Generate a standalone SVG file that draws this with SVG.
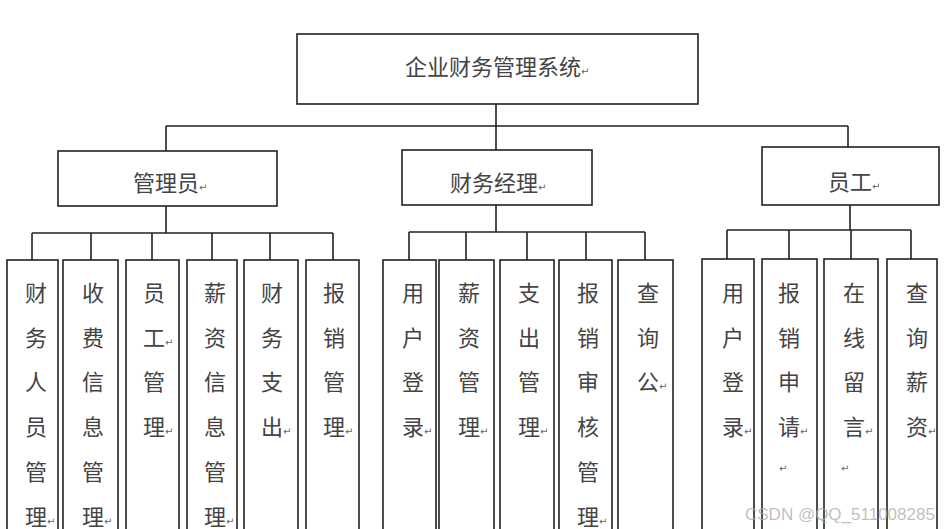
<svg xmlns="http://www.w3.org/2000/svg" width="944" height="529" viewBox="0 0 944 529">
<style>
.box{fill:#fff;stroke:#222;stroke-width:1.6}
.ln{fill:none;stroke:#222;stroke-width:1.6}
.t{font-family:"Noto Sans CJK SC","Noto Sans CJK JP",sans-serif;font-size:22px;fill:#444}
.r{font-family:"DejaVu Sans",sans-serif;font-size:10px;fill:#666}
.wm{font-family:"Liberation Sans",Arial,sans-serif;font-size:17px;fill:#aaa;fill-opacity:0.75}
</style>
<rect width="944" height="529" fill="#fff"/>
<g id="connectors">
<path class="ln" d="M496,104V126M166,126H848M166,126V151M496,126V150M848,126V147"/>
<path class="ln" d="M166,206V233M32,233H333M32,233V260M91,233V260M152,233V260M212,233V260M270,233V260M333,233V260"/>
<path class="ln" d="M496,205V232M409,232H645M409,232V260M466,232V260M527,232V260M586,232V260M645,232V260"/>
<path class="ln" d="M850,205V230M727,230H911M727,230V259M789,230V259M851,230V259M911,230V259"/>
</g>
<g id="root"><rect class="box" x="297" y="34" width="401" height="70"/><text class="t" x="405" y="75">企业财务管理系统<tspan class="r">↵</tspan></text></g>
<g id="admin"><rect class="box" x="58" y="151" width="219" height="55"/><text class="t" x="133" y="191">管理员<tspan class="r">↵</tspan></text></g>
<g id="manager"><rect class="box" x="402" y="150" width="190" height="55"/><text class="t" x="450" y="191">财务经理<tspan class="r">↵</tspan></text></g>
<g id="employee"><rect class="box" x="762" y="147" width="177" height="58"/><text class="t" x="828" y="190">员工<tspan class="r">↵</tspan></text></g>

<g id="a1"><rect class="box" x="7" y="260" width="51" height="280"/><text class="t"><tspan x="25" y="301">财</tspan><tspan x="25" dy="44.7">务</tspan><tspan x="25" dy="44.7">人</tspan><tspan x="25" dy="44.7">员</tspan><tspan x="25" dy="44.7">管</tspan><tspan x="25" dy="44.7">理</tspan><tspan class="r">↵</tspan></text></g>
<g id="a2"><rect class="box" x="63" y="260" width="55" height="280"/><text class="t"><tspan x="82" y="301">收</tspan><tspan x="82" dy="44.7">费</tspan><tspan x="82" dy="44.7">信</tspan><tspan x="82" dy="44.7">息</tspan><tspan x="82" dy="44.7">管</tspan><tspan x="82" dy="44.7">理</tspan><tspan class="r">↵</tspan></text></g>
<g id="a3"><rect class="box" x="126" y="260" width="53" height="280"/><text class="t"><tspan x="143" y="301">员</tspan><tspan x="143" dy="44.7">工</tspan><tspan class="r">↵</tspan><tspan x="143" dy="44.7">管</tspan><tspan x="143" dy="44.7">理</tspan><tspan class="r">↵</tspan></text></g>
<g id="a4"><rect class="box" x="187" y="260" width="50" height="280"/><text class="t"><tspan x="204" y="301">薪</tspan><tspan x="204" dy="44.7">资</tspan><tspan x="204" dy="44.7">信</tspan><tspan x="204" dy="44.7">息</tspan><tspan x="204" dy="44.7">管</tspan><tspan x="204" dy="44.7">理</tspan><tspan class="r">↵</tspan></text></g>
<g id="a5"><rect class="box" x="244" y="260" width="54" height="280"/><text class="t"><tspan x="261" y="301">财</tspan><tspan x="261" dy="44.7">务</tspan><tspan x="261" dy="44.7">支</tspan><tspan x="261" dy="44.7">出</tspan><tspan class="r">↵</tspan></text></g>
<g id="a6"><rect class="box" x="306" y="260" width="53" height="280"/><text class="t"><tspan x="323" y="301">报</tspan><tspan x="323" dy="44.7">销</tspan><tspan x="323" dy="44.7">管</tspan><tspan x="323" dy="44.7">理</tspan><tspan class="r">↵</tspan></text></g>

<g id="m1"><rect class="box" x="383" y="260" width="53" height="280"/><text class="t"><tspan x="402" y="301">用</tspan><tspan x="402" dy="44.7">户</tspan><tspan x="402" dy="44.7">登</tspan><tspan x="402" dy="44.7">录</tspan><tspan class="r">↵</tspan></text></g>
<g id="m2"><rect class="box" x="439" y="260" width="55" height="280"/><text class="t"><tspan x="458" y="301">薪</tspan><tspan x="458" dy="44.7">资</tspan><tspan x="458" dy="44.7">管</tspan><tspan x="458" dy="44.7">理</tspan><tspan class="r">↵</tspan></text></g>
<g id="m3"><rect class="box" x="500" y="260" width="54" height="280"/><text class="t"><tspan x="518" y="301">支</tspan><tspan x="518" dy="44.7">出</tspan><tspan x="518" dy="44.7">管</tspan><tspan x="518" dy="44.7">理</tspan><tspan class="r">↵</tspan></text></g>
<g id="m4"><rect class="box" x="559" y="260" width="53" height="280"/><text class="t"><tspan x="577" y="301">报</tspan><tspan x="577" dy="44.7">销</tspan><tspan x="577" dy="44.7">审</tspan><tspan x="577" dy="44.7">核</tspan><tspan x="577" dy="44.7">管</tspan><tspan x="577" dy="44.7">理</tspan><tspan class="r">↵</tspan></text></g>
<g id="m5"><rect class="box" x="618" y="260" width="55" height="280"/><text class="t"><tspan x="637" y="301">查</tspan><tspan x="637" dy="44.7">询</tspan><tspan x="637" dy="44.7">公</tspan><tspan class="r">↵</tspan></text></g>

<g id="e1"><rect class="box" x="702" y="259" width="52" height="280"/><text class="t"><tspan x="722" y="301">用</tspan><tspan x="722" dy="44.7">户</tspan><tspan x="722" dy="44.7">登</tspan><tspan x="722" dy="44.7">录</tspan><tspan class="r">↵</tspan></text></g>
<g id="e2"><rect class="box" x="762" y="259" width="55" height="280"/><text class="t"><tspan x="778" y="301">报</tspan><tspan x="778" dy="44.7">销</tspan><tspan x="778" dy="44.7">申</tspan><tspan x="778" dy="44.7">请</tspan><tspan class="r">↵</tspan></text><text class="r" x="779" y="472">↵</text></g>
<g id="e3"><rect class="box" x="824" y="259" width="54" height="280"/><text class="t"><tspan x="843" y="301">在</tspan><tspan x="843" dy="44.7">线</tspan><tspan x="843" dy="44.7">留</tspan><tspan x="843" dy="44.7">言</tspan><tspan class="r">↵</tspan></text><text class="r" x="841" y="472">↵</text></g>
<g id="e4"><rect class="box" x="887" y="259" width="50" height="280"/><text class="t"><tspan x="906" y="301">查</tspan><tspan x="906" dy="44.7">询</tspan><tspan x="906" dy="44.7">薪</tspan><tspan x="906" dy="44.7">资</tspan><tspan class="r">↵</tspan></text></g>
<text class="wm" x="745" y="520">CSDN @QQ_511008285</text>
</svg>
